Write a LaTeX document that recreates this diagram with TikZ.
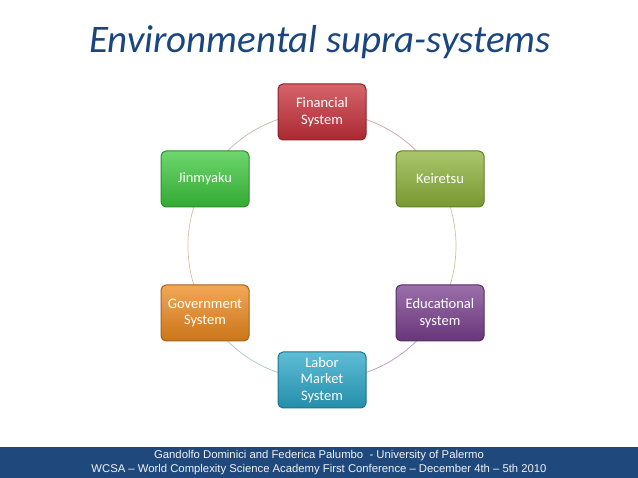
\documentclass[tikz,border=0pt]{standalone}
\usepackage{fontspec}
\setmainfont{Carlito}
\newfontfamily\foot{Liberation Sans}
\begin{document}
\begin{tikzpicture}[x=1pt,y=-1pt,
  sbox/.style={rounded corners=5pt,minimum width=88pt,minimum height=56pt,text=white,font=\fontsize{14.5}{16.5}\selectfont,align=center,draw=#1!70!black,line width=1pt,top color=#1!75!white,bottom color=#1!85!black},
  arc/.style={line width=0.7pt}]
\useasboundingbox (0,0) rectangle (638,478);
\fill[white] (0,0) rectangle (638,478);
\definecolor{fin}{HTML}{C8303A}
\definecolor{kei}{HTML}{8DB33A}
\definecolor{edu}{HTML}{7A3F8F}
\definecolor{lab}{HTML}{2AA7C8}
\definecolor{gov}{HTML}{EE8A1E}
\definecolor{jin}{HTML}{3CC83C}
\definecolor{arcA}{HTML}{D9A0A0}
\definecolor{arcB}{HTML}{C8C8A0}
\definecolor{arcC}{HTML}{B89AC0}
\definecolor{arcD}{HTML}{A8C8C8}
\definecolor{arcE}{HTML}{D8C0A8}
\definecolor{arcF}{HTML}{C8B8A8}
\definecolor{title}{HTML}{1A4680}
\definecolor{band}{HTML}{1F497D}
\node (title) at (320,42) {\fontsize{39}{44}\selectfont\itshape\color{title}Environmental supra-systems};
\coordinate (c) at (322,246);
\draw[arc,arcA] ([shift={(-90:134)}]c) arc[start angle=-90,end angle=-30,radius=134];
\draw[arc,arcB] ([shift={(-30:134)}]c) arc[start angle=-30,end angle=30,radius=134];
\draw[arc,arcC] ([shift={(30:134)}]c) arc[start angle=30,end angle=90,radius=134];
\draw[arc,arcD] ([shift={(90:134)}]c) arc[start angle=90,end angle=150,radius=134];
\draw[arc,arcE] ([shift={(150:134)}]c) arc[start angle=150,end angle=210,radius=134];
\draw[arc,arcF] ([shift={(210:134)}]c) arc[start angle=210,end angle=270,radius=134];
\node[sbox=fin] (f) at (322,112) {Financial\\System};
\node[sbox=kei] (k) at (440,179) {Keiretsu};
\node[sbox=edu] (e) at (440,313) {Educational\\system};
\node[sbox=lab] (l) at (322,380) {Labor\\Market\\System};
\node[sbox=gov] (g) at (205,313) {Government\\System};
\node[sbox=jin] (j) at (205,179) {Jinmyaku};
\fill[band] (0,447) rectangle (638,478);
\node[text=white!90!gray,align=center,font=\foot\fontsize{11.3}{13.8}\selectfont] (ft) at (319,462.5) {Gandolfo Dominici and Federica Palumbo\ \ - University of Palermo\\WCSA – World Complexity Science Academy First Conference – December 4th – 5th 2010};
\end{tikzpicture}
\end{document}
